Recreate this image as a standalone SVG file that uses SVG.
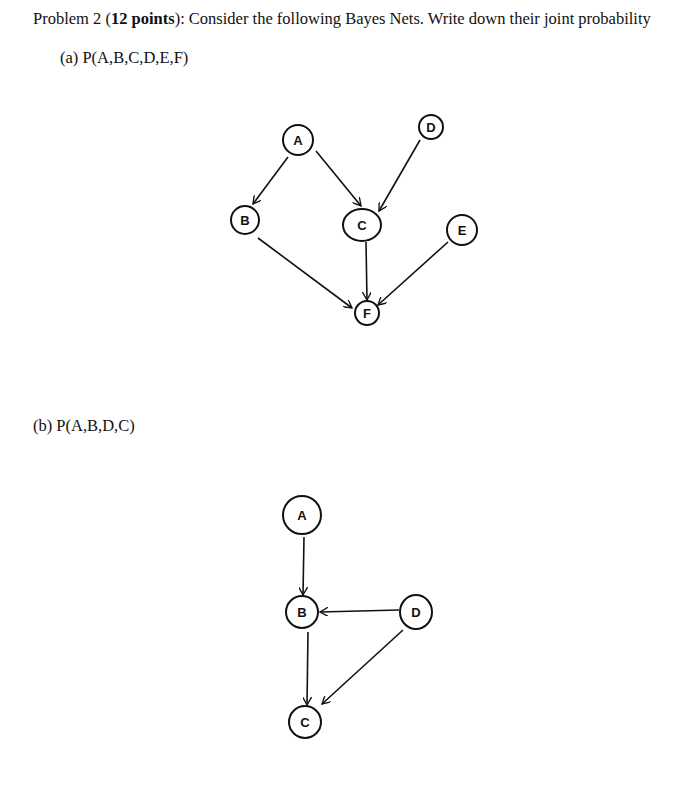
<svg xmlns="http://www.w3.org/2000/svg" width="675" height="791" viewBox="0 0 675 791">
<style>
.t{font-family:"Liberation Serif",serif;font-size:16.5px;fill:#111}
.n ellipse{fill:#fff;stroke:#111;stroke-width:2}
.n text{font-family:"Liberation Sans",sans-serif;font-size:13px;font-weight:bold;text-anchor:middle;fill:#111}
.e line{stroke:#111;stroke-width:1.6;marker-end:url(#ar)}
</style>
<defs><marker id="ar" viewBox="0 0 10 10" refX="9" refY="5" markerWidth="9" markerHeight="9" orient="auto" markerUnits="userSpaceOnUse"><path d="M0,0L9,5L0,10" fill="none" stroke="#111" stroke-width="1.5"/></marker></defs>
<rect width="675" height="791" fill="#fff"/>
<text class="t" x="33" y="24">Problem 2 (<tspan font-weight="bold">12 points</tspan>): Consider the following Bayes Nets. Write down their joint probability</text>
<text class="t" x="60" y="63">(a) P(A,B,C,D,E,F)</text>
<text class="t" x="33" y="431">(b) P(A,B,D,C)</text>
<g class="e" id="edges">
<line x1="288" y1="157" x2="253" y2="204"/>
<line x1="316" y1="151" x2="361" y2="206"/>
<line x1="420" y1="140" x2="379" y2="211"/>
<line x1="258" y1="238" x2="352" y2="308"/>
<line x1="366" y1="242" x2="367" y2="300"/>
<line x1="448" y1="242" x2="378" y2="305"/>
<line x1="304" y1="537" x2="303" y2="595"/>
<line x1="399" y1="610" x2="320" y2="612"/>
<line x1="308" y1="632" x2="307" y2="705"/>
<line x1="403" y1="630" x2="322" y2="704"/>
</g>
<g class="n" id="a-A"><ellipse cx="298" cy="140" rx="15" ry="15"/><text x="298" y="145">A</text></g>
<g class="n" id="a-D"><ellipse cx="431" cy="127" rx="12" ry="12"/><text x="431" y="132">D</text></g>
<g class="n" id="a-B"><ellipse cx="245" cy="220" rx="14" ry="14"/><text x="245" y="225">B</text></g>
<g class="n" id="a-C"><ellipse cx="362" cy="225" rx="19" ry="16"/><text x="362" y="230">C</text></g>
<g class="n" id="a-E"><ellipse cx="462" cy="230" rx="15" ry="15"/><text x="462" y="235">E</text></g>
<g class="n" id="a-F"><ellipse cx="367" cy="313" rx="12" ry="12"/><text x="367" y="318">F</text></g>
<g class="n" id="b-A"><ellipse cx="302" cy="515" rx="19" ry="19"/><text x="302" y="520">A</text></g>
<g class="n" id="b-B"><ellipse cx="302" cy="612" rx="16" ry="16"/><text x="302" y="617">B</text></g>
<g class="n" id="b-D"><ellipse cx="416" cy="612" rx="16" ry="17"/><text x="416" y="617">D</text></g>
<g class="n" id="b-C"><ellipse cx="305" cy="722" rx="16" ry="16"/><text x="305" y="727">C</text></g>
</svg>
